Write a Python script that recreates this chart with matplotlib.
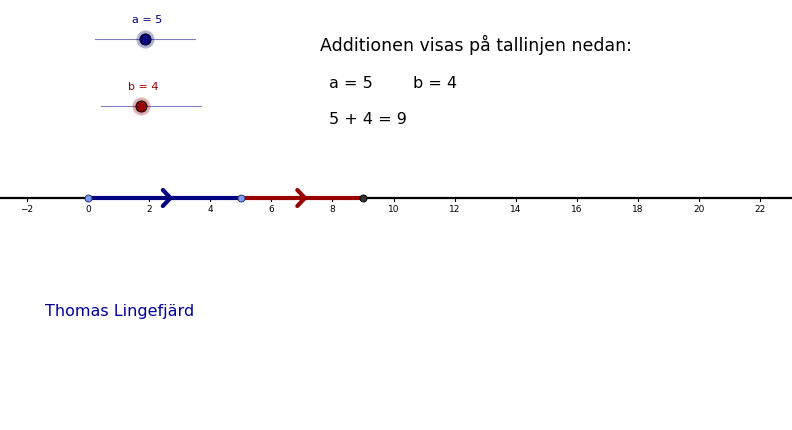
import matplotlib
matplotlib.use("Agg")
import matplotlib.pyplot as plt

a = 5
b = 4
tick_values = list(range(-2, 23, 2))

W, H = 792, 431
fig = plt.figure(figsize=(W/100, H/100), dpi=100)
ax = fig.add_axes([0, 0, 1, 1])
ax.set_xlim(-2.88, 23.04)
ax.set_ylim(H, 0)
ax.axis('off')
ov = fig.add_axes([0, 0, 1, 1])
ov.set_xlim(0, W); ov.set_ylim(H, 0); ov.axis('off'); ov.patch.set_alpha(0)

AY = 199
ax.plot([-2.88, 23.04], [AY, AY], color='black', lw=1.6)
for t in tick_values:
    ax.plot([t, t], [AY, AY+3], color='black', lw=0.8)
    lab = ('\u22122' if t < 0 else str(t))
    ax.text(t, AY+11, lab, ha='center', va='center', fontsize=6.5)

def vec(x0, x1, color, mid):
    ax.plot([x0, x1], [AY, AY], color=color, lw=3, solid_capstyle='butt')
    ax.plot([mid-0.25, mid, mid-0.25], [AY-8, AY, AY+8], color=color, lw=3,
            solid_capstyle='round', solid_joinstyle='miter')

vec(0, a, '#000080', 2.7)
vec(a, a+b, '#990000', 7.1)
ax.plot([0], [AY], 'o', ms=5, mfc='#7a9cff', mec='#333366', mew=0.7)
ax.plot([a], [AY], 'o', ms=5, mfc='#7a9cff', mec='#333366', mew=0.7)
ax.plot([a+b], [AY], 'o', ms=5, mfc='#333333', mec='black', mew=0.7)

# sliders
ov.plot([95, 195], [40, 40], color='#8080c0', lw=0.8)
ov.plot([145], [40], 'o', ms=13, mfc='#000080', mec='none', alpha=0.3)
ov.plot([145], [40], 'o', ms=8, mfc='#000080', mec='black', mew=0.7)
ov.text(147, 20, f'a = {a}', ha='center', va='center', fontsize=8, color='#000080')
ov.plot([101, 201], [107, 107], color='#8080c0', lw=0.8)
ov.plot([141], [107], 'o', ms=13, mfc='#990000', mec='none', alpha=0.3)
ov.plot([141], [107], 'o', ms=8, mfc='#990000', mec='black', mew=0.7)
ov.text(143, 87, f'b = {b}', ha='center', va='center', fontsize=8, color='#990000')

ov.text(320, 45, 'Additionen visas på tallinjen nedan:', va='center', fontsize=12.5)
ov.text(329, 83, f'a = {a}', va='center', fontsize=11.5)
ov.text(413, 83, f'b = {b}', va='center', fontsize=11.5)
ov.text(329, 120, f'{a} + {b} = {a+b}', va='center', fontsize=11.5)
ov.text(45, 312, 'Thomas Lingefjärd', va='center', fontsize=11.5, color='#0000a0')

fig.savefig('out.png', dpi=100)
